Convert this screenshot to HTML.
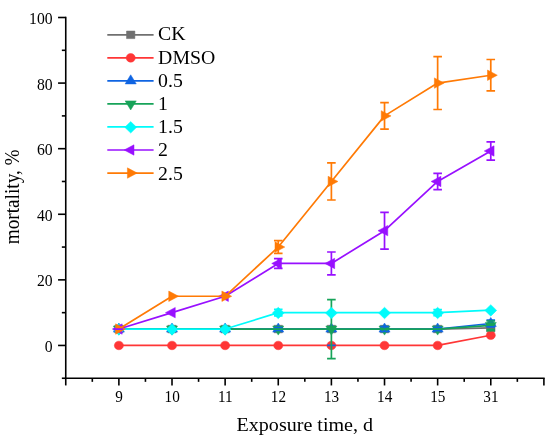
<!DOCTYPE html>
<html lang="en"><head><meta charset="utf-8"><title>Mortality vs exposure time</title>
<style>html,body{margin:0;padding:0;background:#fff}svg{display:block}text{font-family:'Liberation Serif', 'Times New Roman', serif;fill:#000}</style></head><body>
<svg width="550" height="444" viewBox="0 0 550 444">
<rect width="550" height="444" fill="#fff"/>
<polyline points="118.88,329.06 172.01,329.06 225.13,329.06 278.26,329.06 331.39,329.06 384.52,329.06 437.64,329.06 490.77,327.91" fill="none" stroke="#707070" stroke-width="1.7" stroke-linejoin="round"/><rect x="114.68" y="325.26" width="8.4" height="7.6" fill="#707070" stroke="#707070" stroke-width="0.5" stroke-linejoin="round"/><rect x="167.81" y="325.26" width="8.4" height="7.6" fill="#707070" stroke="#707070" stroke-width="0.5" stroke-linejoin="round"/><rect x="220.93" y="325.26" width="8.4" height="7.6" fill="#707070" stroke="#707070" stroke-width="0.5" stroke-linejoin="round"/><rect x="274.06" y="325.26" width="8.4" height="7.6" fill="#707070" stroke="#707070" stroke-width="0.5" stroke-linejoin="round"/><rect x="327.19" y="325.26" width="8.4" height="7.6" fill="#707070" stroke="#707070" stroke-width="0.5" stroke-linejoin="round"/><rect x="380.32" y="325.26" width="8.4" height="7.6" fill="#707070" stroke="#707070" stroke-width="0.5" stroke-linejoin="round"/><rect x="433.44" y="325.26" width="8.4" height="7.6" fill="#707070" stroke="#707070" stroke-width="0.5" stroke-linejoin="round"/><rect x="486.57" y="324.11" width="8.4" height="7.6" fill="#707070" stroke="#707070" stroke-width="0.5" stroke-linejoin="round"/>
<polyline points="118.88,345.45 172.01,345.45 225.13,345.45 278.26,345.45 331.39,345.45 384.52,345.45 437.64,345.45 490.77,335.29" fill="none" stroke="#ff3636" stroke-width="1.7" stroke-linejoin="round"/><ellipse cx="118.88" cy="345.45" rx="4.55" ry="4.3" fill="#ff3636" stroke="#ff3636" stroke-width="0.5" stroke-linejoin="round"/><ellipse cx="172.01" cy="345.45" rx="4.55" ry="4.3" fill="#ff3636" stroke="#ff3636" stroke-width="0.5" stroke-linejoin="round"/><ellipse cx="225.13" cy="345.45" rx="4.55" ry="4.3" fill="#ff3636" stroke="#ff3636" stroke-width="0.5" stroke-linejoin="round"/><ellipse cx="278.26" cy="345.45" rx="4.55" ry="4.3" fill="#ff3636" stroke="#ff3636" stroke-width="0.5" stroke-linejoin="round"/><ellipse cx="331.39" cy="345.45" rx="4.55" ry="4.3" fill="#ff3636" stroke="#ff3636" stroke-width="0.5" stroke-linejoin="round"/><ellipse cx="384.52" cy="345.45" rx="4.55" ry="4.3" fill="#ff3636" stroke="#ff3636" stroke-width="0.5" stroke-linejoin="round"/><ellipse cx="437.64" cy="345.45" rx="4.55" ry="4.3" fill="#ff3636" stroke="#ff3636" stroke-width="0.5" stroke-linejoin="round"/><ellipse cx="490.77" cy="335.29" rx="4.55" ry="4.3" fill="#ff3636" stroke="#ff3636" stroke-width="0.5" stroke-linejoin="round"/>
<polyline points="118.88,329.06 172.01,329.06 225.13,329.06 278.26,329.06 331.39,329.06 384.52,329.06 437.64,329.06 490.77,323.48" fill="none" stroke="#0f64e2" stroke-width="1.7" stroke-linejoin="round"/><polygon points="113.33,332.09 124.43,332.09 118.88,322.99" fill="#0f64e2" stroke="#0f64e2" stroke-width="0.5" stroke-linejoin="round"/><polygon points="166.46,332.09 177.56,332.09 172.01,322.99" fill="#0f64e2" stroke="#0f64e2" stroke-width="0.5" stroke-linejoin="round"/><polygon points="219.58,332.09 230.68,332.09 225.13,322.99" fill="#0f64e2" stroke="#0f64e2" stroke-width="0.5" stroke-linejoin="round"/><polygon points="272.71,332.09 283.81,332.09 278.26,322.99" fill="#0f64e2" stroke="#0f64e2" stroke-width="0.5" stroke-linejoin="round"/><polygon points="325.84,332.09 336.94,332.09 331.39,322.99" fill="#0f64e2" stroke="#0f64e2" stroke-width="0.5" stroke-linejoin="round"/><polygon points="378.97,332.09 390.07,332.09 384.52,322.99" fill="#0f64e2" stroke="#0f64e2" stroke-width="0.5" stroke-linejoin="round"/><polygon points="432.09,332.09 443.19,332.09 437.64,322.99" fill="#0f64e2" stroke="#0f64e2" stroke-width="0.5" stroke-linejoin="round"/><polygon points="485.22,326.51 496.32,326.51 490.77,317.41" fill="#0f64e2" stroke="#0f64e2" stroke-width="0.5" stroke-linejoin="round"/>
<polyline points="118.88,329.06 172.01,329.06 225.13,329.06 278.26,329.06 331.39,329.06 384.52,329.06 437.64,329.06 490.77,325.45" fill="none" stroke="#17a359" stroke-width="1.7" stroke-linejoin="round"/><polygon points="113.33,326.02 124.43,326.02 118.88,335.12" fill="#17a359" stroke="#17a359" stroke-width="0.5" stroke-linejoin="round"/><polygon points="166.46,326.02 177.56,326.02 172.01,335.12" fill="#17a359" stroke="#17a359" stroke-width="0.5" stroke-linejoin="round"/><polygon points="219.58,326.02 230.68,326.02 225.13,335.12" fill="#17a359" stroke="#17a359" stroke-width="0.5" stroke-linejoin="round"/><polygon points="272.71,326.02 283.81,326.02 278.26,335.12" fill="#17a359" stroke="#17a359" stroke-width="0.5" stroke-linejoin="round"/><polygon points="325.84,326.02 336.94,326.02 331.39,335.12" fill="#17a359" stroke="#17a359" stroke-width="0.5" stroke-linejoin="round"/><polygon points="378.97,326.02 390.07,326.02 384.52,335.12" fill="#17a359" stroke="#17a359" stroke-width="0.5" stroke-linejoin="round"/><polygon points="432.09,326.02 443.19,326.02 437.64,335.12" fill="#17a359" stroke="#17a359" stroke-width="0.5" stroke-linejoin="round"/><polygon points="485.22,322.42 496.32,322.42 490.77,331.52" fill="#17a359" stroke="#17a359" stroke-width="0.5" stroke-linejoin="round"/>
<path d="M486.47 327.91H495.07" fill="none" stroke="#707070" stroke-width="1.7"/>
<path d="M278.26 327.68V330.43M273.96 327.68H282.56M273.96 330.43H282.56M327.09 312.66H335.69M327.09 345.45H335.69M384.52 326.60V331.52M380.22 326.60H388.82M380.22 331.52H388.82M437.64 327.42V330.70M433.34 327.42H441.94M433.34 330.70H441.94M486.47 320.04H495.07M486.47 326.93H495.07" fill="none" stroke="#0f64e2" stroke-width="1.7"/>
<path d="M273.96 329.06H282.56M331.39 299.54V358.57M327.09 299.54H335.69M327.09 358.57H335.69M380.22 329.06H388.82M433.34 329.06H441.94M486.47 320.99H495.07M486.47 329.60H495.07M486.47 330.60H495.07" fill="none" stroke="#17a359" stroke-width="1.7"/>
<polyline points="118.88,329.06 172.01,329.06 225.13,329.06 278.26,312.66 331.39,312.66 384.52,312.66 437.64,312.66 490.77,310.04" fill="none" stroke="#00fbfb" stroke-width="1.7" stroke-linejoin="round"/><polygon points="112.98,329.41 118.88,323.66 124.78,329.41 118.88,335.16" fill="#00fbfb" stroke="#00fbfb" stroke-width="0.5" stroke-linejoin="round"/><polygon points="166.11,329.41 172.01,323.66 177.91,329.41 172.01,335.16" fill="#00fbfb" stroke="#00fbfb" stroke-width="0.5" stroke-linejoin="round"/><polygon points="219.23,329.41 225.13,323.66 231.03,329.41 225.13,335.16" fill="#00fbfb" stroke="#00fbfb" stroke-width="0.5" stroke-linejoin="round"/><polygon points="272.36,313.01 278.26,307.26 284.16,313.01 278.26,318.76" fill="#00fbfb" stroke="#00fbfb" stroke-width="0.5" stroke-linejoin="round"/><polygon points="325.49,313.01 331.39,307.26 337.29,313.01 331.39,318.76" fill="#00fbfb" stroke="#00fbfb" stroke-width="0.5" stroke-linejoin="round"/><polygon points="378.62,313.01 384.52,307.26 390.42,313.01 384.52,318.76" fill="#00fbfb" stroke="#00fbfb" stroke-width="0.5" stroke-linejoin="round"/><polygon points="431.74,313.01 437.64,307.26 443.54,313.01 437.64,318.76" fill="#00fbfb" stroke="#00fbfb" stroke-width="0.5" stroke-linejoin="round"/><polygon points="484.87,310.39 490.77,304.64 496.67,310.39 490.77,316.14" fill="#00fbfb" stroke="#00fbfb" stroke-width="0.5" stroke-linejoin="round"/>
<polyline points="118.88,329.06 172.01,312.66 225.13,296.26 278.26,263.47 331.39,263.47 384.52,230.67 437.64,181.48 490.77,150.98" fill="none" stroke="#9810ff" stroke-width="1.7" stroke-linejoin="round"/><polygon points="122.14,323.86 122.14,334.26 112.34,329.06" fill="#9810ff" stroke="#9810ff" stroke-width="0.5" stroke-linejoin="round"/><polygon points="175.27,307.46 175.27,317.86 165.47,312.66" fill="#9810ff" stroke="#9810ff" stroke-width="0.5" stroke-linejoin="round"/><polygon points="228.40,291.06 228.40,301.46 218.60,296.26" fill="#9810ff" stroke="#9810ff" stroke-width="0.5" stroke-linejoin="round"/><polygon points="281.53,258.27 281.53,268.67 271.73,263.47" fill="#9810ff" stroke="#9810ff" stroke-width="0.5" stroke-linejoin="round"/><polygon points="334.66,258.27 334.66,268.67 324.86,263.47" fill="#9810ff" stroke="#9810ff" stroke-width="0.5" stroke-linejoin="round"/><polygon points="387.78,225.47 387.78,235.87 377.98,230.67" fill="#9810ff" stroke="#9810ff" stroke-width="0.5" stroke-linejoin="round"/><polygon points="440.91,176.28 440.91,186.68 431.11,181.48" fill="#9810ff" stroke="#9810ff" stroke-width="0.5" stroke-linejoin="round"/><polygon points="494.04,145.78 494.04,156.18 484.24,150.98" fill="#9810ff" stroke="#9810ff" stroke-width="0.5" stroke-linejoin="round"/>
<polyline points="118.88,329.06 172.01,296.26 225.13,296.26 278.26,247.07 331.39,181.48 384.52,115.89 437.64,83.09 490.77,75.22" fill="none" stroke="#ff7a05" stroke-width="1.7" stroke-linejoin="round"/><polygon points="115.61,323.86 115.61,334.26 125.41,329.06" fill="#ff7a05" stroke="#ff7a05" stroke-width="0.5" stroke-linejoin="round"/><polygon points="168.74,291.06 168.74,301.46 178.54,296.26" fill="#ff7a05" stroke="#ff7a05" stroke-width="0.5" stroke-linejoin="round"/><polygon points="221.87,291.06 221.87,301.46 231.67,296.26" fill="#ff7a05" stroke="#ff7a05" stroke-width="0.5" stroke-linejoin="round"/><polygon points="274.99,241.87 274.99,252.27 284.79,247.07" fill="#ff7a05" stroke="#ff7a05" stroke-width="0.5" stroke-linejoin="round"/><polygon points="328.12,176.28 328.12,186.68 337.92,181.48" fill="#ff7a05" stroke="#ff7a05" stroke-width="0.5" stroke-linejoin="round"/><polygon points="381.25,110.69 381.25,121.09 391.05,115.89" fill="#ff7a05" stroke="#ff7a05" stroke-width="0.5" stroke-linejoin="round"/><polygon points="434.38,77.89 434.38,88.29 444.18,83.09" fill="#ff7a05" stroke="#ff7a05" stroke-width="0.5" stroke-linejoin="round"/><polygon points="487.51,70.02 487.51,80.42 497.31,75.22" fill="#ff7a05" stroke="#ff7a05" stroke-width="0.5" stroke-linejoin="round"/>
<path d="M278.26 309.38V315.94M273.96 309.38H282.56M273.96 315.94H282.56M437.64 309.71V315.61M433.34 309.71H441.94M433.34 315.61H441.94" fill="none" stroke="#00fbfb" stroke-width="1.7"/>
<path d="M114.58 329.06H123.18M278.26 258.55V268.39M273.96 258.55H282.56M273.96 268.39H282.56M331.39 251.99V274.94M327.09 251.99H335.69M327.09 274.94H335.69M384.52 212.31V249.04M380.22 212.31H388.82M380.22 249.04H388.82M437.64 173.28V189.68M433.34 173.28H441.94M433.34 189.68H441.94M490.77 141.79V160.16M486.47 141.79H495.07M486.47 160.16H495.07" fill="none" stroke="#9810ff" stroke-width="1.7"/>
<path d="M278.26 240.67V253.46M273.96 240.67H282.56M273.96 253.46H282.56M331.39 162.95V200.01M327.09 162.95H335.69M327.09 200.01H335.69M384.52 102.60V129.17M380.22 102.60H388.82M380.22 129.17H388.82M437.64 56.69V109.49M433.34 56.69H441.94M433.34 109.49H441.94M490.77 59.48V90.96M486.47 59.48H495.07M486.47 90.96H495.07" fill="none" stroke="#ff7a05" stroke-width="1.7"/>
<g stroke="#000" stroke-width="1.6" fill="none" stroke-linecap="butt"><path d="M65.75 16.70V379.05"/><path d="M64.95 378.25H544.70"/><path d="M61.85 378.25H65.75"/><path d="M58.05 345.45H65.75"/><path d="M61.85 312.66H65.75"/><path d="M58.05 279.86H65.75"/><path d="M61.85 247.07H65.75"/><path d="M58.05 214.27H65.75"/><path d="M61.85 181.48H65.75"/><path d="M58.05 148.68H65.75"/><path d="M61.85 115.89H65.75"/><path d="M58.05 83.09H65.75"/><path d="M61.85 50.30H65.75"/><path d="M58.05 17.50H65.75"/><path d="M65.75 378.25V385.45"/><path d="M92.31 378.25V381.85"/><path d="M118.88 378.25V385.45"/><path d="M145.44 378.25V381.85"/><path d="M172.01 378.25V385.45"/><path d="M198.57 378.25V381.85"/><path d="M225.13 378.25V385.45"/><path d="M251.70 378.25V381.85"/><path d="M278.26 378.25V385.45"/><path d="M304.82 378.25V381.85"/><path d="M331.39 378.25V385.45"/><path d="M357.95 378.25V381.85"/><path d="M384.52 378.25V385.45"/><path d="M411.08 378.25V381.85"/><path d="M437.64 378.25V385.45"/><path d="M464.21 378.25V381.85"/><path d="M490.77 378.25V385.45"/><path d="M517.34 378.25V381.85"/><path d="M543.90 378.25V385.45"/></g>
<text transform="translate(52.60 352.05) scale(0.97 1)" font-size="16.2" text-anchor="end">0</text>
<text transform="translate(52.60 286.46) scale(0.97 1)" font-size="16.2" text-anchor="end">20</text>
<text transform="translate(52.60 220.87) scale(0.97 1)" font-size="16.2" text-anchor="end">40</text>
<text transform="translate(52.60 155.28) scale(0.97 1)" font-size="16.2" text-anchor="end">60</text>
<text transform="translate(52.60 89.69) scale(0.97 1)" font-size="16.2" text-anchor="end">80</text>
<text transform="translate(52.60 24.10) scale(0.97 1)" font-size="16.2" text-anchor="end">100</text>
<text transform="translate(119.08 402.00) scale(0.94 1)" font-size="16.2" text-anchor="middle">9</text>
<text transform="translate(172.21 402.00) scale(0.94 1)" font-size="16.2" text-anchor="middle">10</text>
<text transform="translate(225.33 402.00) scale(0.94 1)" font-size="16.2" text-anchor="middle">11</text>
<text transform="translate(278.46 402.00) scale(0.94 1)" font-size="16.2" text-anchor="middle">12</text>
<text transform="translate(331.59 402.00) scale(0.94 1)" font-size="16.2" text-anchor="middle">13</text>
<text transform="translate(384.72 402.00) scale(0.94 1)" font-size="16.2" text-anchor="middle">14</text>
<text transform="translate(437.84 402.00) scale(0.94 1)" font-size="16.2" text-anchor="middle">15</text>
<text transform="translate(490.97 402.00) scale(0.94 1)" font-size="16.2" text-anchor="middle">31</text>
<text transform="translate(304.80 431.30) scale(1.024 1)" font-size="19.6" text-anchor="middle">Exposure time, d</text>
<text transform="translate(19.1 196.8) rotate(-90) scale(0.962 1)" font-size="20" text-anchor="middle">mortality, %</text>
<path d="M107.3 34.80H153.6" stroke="#707070" stroke-width="1.7"/>
<rect x="126.50" y="31.00" width="8.4" height="7.6" fill="#707070" stroke="#707070" stroke-width="0.5" stroke-linejoin="round"/>
<text transform="translate(158.10 40.45) scale(1.03 1)" font-size="19.2" text-anchor="start">CK</text>
<path d="M107.3 57.84H153.6" stroke="#ff3636" stroke-width="1.7"/>
<ellipse cx="130.70" cy="57.84" rx="4.55" ry="4.3" fill="#ff3636" stroke="#ff3636" stroke-width="0.5" stroke-linejoin="round"/>
<text transform="translate(158.10 63.65) scale(1.03 1)" font-size="19.2" text-anchor="start">DMSO</text>
<path d="M107.3 80.88H153.6" stroke="#0f64e2" stroke-width="1.7"/>
<polygon points="125.15,83.91 136.25,83.91 130.70,74.81" fill="#0f64e2" stroke="#0f64e2" stroke-width="0.5" stroke-linejoin="round"/>
<text transform="translate(158.10 86.85) scale(1.03 1)" font-size="19.2" text-anchor="start">0.5</text>
<path d="M107.3 103.92H153.6" stroke="#17a359" stroke-width="1.7"/>
<polygon points="125.15,100.89 136.25,100.89 130.70,109.99" fill="#17a359" stroke="#17a359" stroke-width="0.5" stroke-linejoin="round"/>
<text transform="translate(158.10 110.05) scale(1.03 1)" font-size="19.2" text-anchor="start">1</text>
<path d="M107.3 126.96H153.6" stroke="#00fbfb" stroke-width="1.7"/>
<polygon points="124.80,127.31 130.70,121.56 136.60,127.31 130.70,133.06" fill="#00fbfb" stroke="#00fbfb" stroke-width="0.5" stroke-linejoin="round"/>
<text transform="translate(158.10 133.25) scale(1.03 1)" font-size="19.2" text-anchor="start">1.5</text>
<path d="M107.3 150.00H153.6" stroke="#9810ff" stroke-width="1.7"/>
<polygon points="133.97,144.80 133.97,155.20 124.17,150.00" fill="#9810ff" stroke="#9810ff" stroke-width="0.5" stroke-linejoin="round"/>
<text transform="translate(158.10 156.45) scale(1.03 1)" font-size="19.2" text-anchor="start">2</text>
<path d="M107.3 173.04H153.6" stroke="#ff7a05" stroke-width="1.7"/>
<polygon points="127.43,167.84 127.43,178.24 137.23,173.04" fill="#ff7a05" stroke="#ff7a05" stroke-width="0.5" stroke-linejoin="round"/>
<text transform="translate(158.10 179.65) scale(1.03 1)" font-size="19.2" text-anchor="start">2.5</text>
</svg></body></html>
